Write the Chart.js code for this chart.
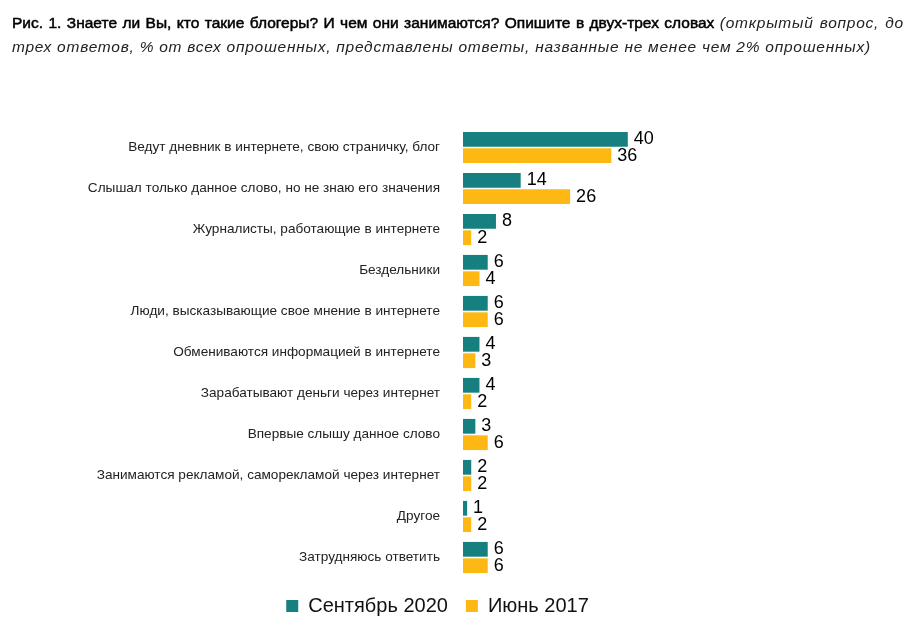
<!DOCTYPE html>
<html><head><meta charset="utf-8">
<script src="https://cdn.jsdelivr.net/npm/chart.js@4"></script>
<style>
body{margin:0;width:920px;height:630px;background:#fff;font-family:"Liberation Sans",Arial,sans-serif;position:relative;overflow:hidden}
#t{position:absolute;left:12px;top:11px;width:892px;font-size:15.5px;line-height:24px;color:#000;text-align:justify}
#t b{font-weight:normal;-webkit-text-stroke:0.5px #000}
#t i{color:#222;letter-spacing:0.75px}
#w{position:absolute;left:0;top:0;width:920px;height:630px}
</style></head><body>
<div id="w"><canvas id="c" width="920" height="630"></canvas></div>
<div id="t"><b>Рис. 1. Знаете ли Вы, кто такие блогеры? И чем они занимаются? Опишите в двух-трех словах</b> <i>(открытый вопрос, до трех ответов, % от всех опрошенных, представлены ответы, названные не менее чем 2% опрошенных)</i></div>
<script>
const categories=["Ведут дневник в интернете, свою страничку, блог","Слышал только данное слово, но не знаю его значения","Журналисты, работающие в интернете","Бездельники","Люди, высказывающие свое мнение в интернете","Обмениваются информацией в интернете","Зарабатывают деньги через интернет","Впервые слышу данное слово","Занимаются рекламой, саморекламой через интернет","Другое","Затрудняюсь ответить"];
const sep2020=[40,14,8,6,6,4,4,3,2,1,6];
const jun2017=[36,26,2,4,6,3,2,6,2,2,6];
const labelsPlugin={id:'vals',afterDatasetsDraw(ch){const c=ch.ctx;c.save();c.font='18px "Liberation Sans",Arial';c.fillStyle='#000';c.textBaseline='middle';
ch.data.datasets.forEach((d,i)=>{ch.getDatasetMeta(i).data.forEach((b,j)=>{c.fillText(d.data[j],b.x+6,b.y);});});c.restore();}};
new Chart(document.getElementById('c'),{type:'bar',
data:{labels:categories,datasets:[
{label:'Сентябрь 2020',data:sep2020,backgroundColor:'#167f7f'},
{label:'Июнь 2017',data:jun2017,backgroundColor:'#fdb813'}]},
options:{indexAxis:'y',responsive:false,animation:false,
datasets:{bar:{categoryPercentage:0.8,barPercentage:0.9}},
layout:{padding:{top:127,right:45,bottom:4,left:0}},
scales:{x:{display:false,min:0,max:100},
y:{grid:{display:false},border:{display:false},ticks:{color:'#222',font:{size:13.6,family:'"Liberation Sans",Arial'},padding:15},afterFit(s){s.width=463;}}},
plugins:{legend:{position:'bottom',labels:{boxWidth:12,boxHeight:12,color:'#111',font:{size:20,family:'"Liberation Sans",Arial'},padding:18}},tooltip:{enabled:false}}},
plugins:[labelsPlugin]});
</script></body></html>
